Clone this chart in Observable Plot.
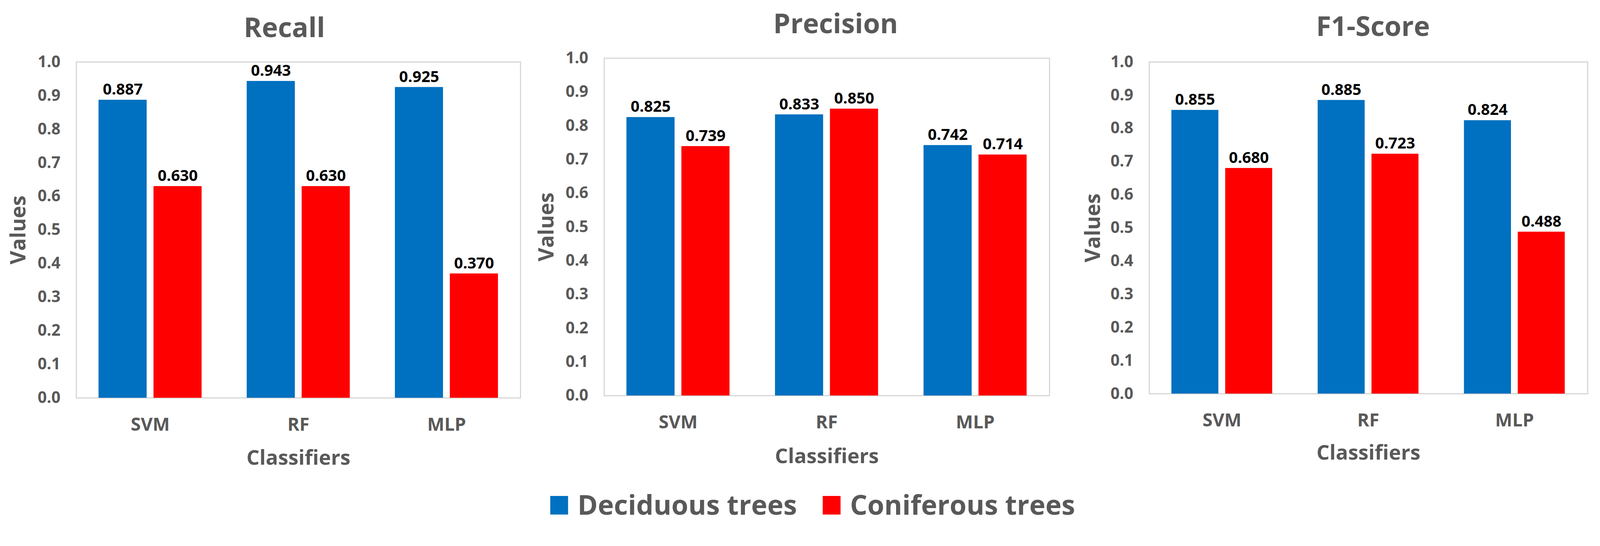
<!DOCTYPE html>
<html>
<head>
<meta charset="utf-8">
<script src="https://cdn.jsdelivr.net/npm/d3@7"></script>
<script src="https://cdn.jsdelivr.net/npm/@observablehq/plot@0.6"></script>
<style>
  html, body { margin: 0; padding: 0; background: #fff; overflow: hidden; }
  #page { position: relative; width: 4222px; height: 1397px; overflow: hidden; background: #fff; font-family: "Open Sans", sans-serif; transform-origin: 0 0; }
  .panel { position: absolute; top: 0; }
  .panel svg { position: absolute; left: 0; top: 0; }
  #legend { position: absolute; left: 1452px; top: 1293px; display: flex; align-items: flex-start; }
  .sw { width: 47px; height: 49px; margin-top: 15px; }
  .lt { font-size: 72px; line-height: 1; font-weight: 700; color: #595959; margin-left: 25px; margin-right: 68px; white-space: nowrap; }
</style>
</head>
<body>
<div id="page"><div id="legend"></div></div>
<script>
// ---- data ----
const classifiers = ["SVM", "RF", "MLP"];
const seriesNames = ["Deciduous trees", "Coniferous trees"];
const seriesColors = ["#0070C0", "#FF0000"];
const metricNames = ["Recall", "Precision", "F1-Score"];

const recallDeciduous = [0.887, 0.943, 0.925];
const recallConiferous = [0.630, 0.630, 0.370];
const precisionDeciduous = [0.825, 0.833, 0.742];
const precisionConiferous = [0.739, 0.850, 0.714];
const f1Deciduous = [0.855, 0.885, 0.824];
const f1Coniferous = [0.680, 0.723, 0.488];

const yTicks = [0.0, 0.1, 0.2, 0.3, 0.4, 0.5, 0.6, 0.7, 0.8, 0.9, 1.0];
const xTitle = "Classifiers";
const yTitle = "Values";

const metricSeries = [
  [recallDeciduous, recallConiferous],
  [precisionDeciduous, precisionConiferous],
  [f1Deciduous, f1Coniferous]
];

// ---- layout (styles only) ----
const layout = [
  { left: 0,    width: 1400, mL: 201, mR: 27, mT: 163, mB: 211, tDx: -37, tDy: -66, vDx: -152, cDy: 176 },
  { left: 1400, width: 1411, mL: 194, mR: 42, mT: 153, mB: 217, tDx: 23,  tDy: -66, vDx: -152, cDy: 178 },
  { left: 2811, width: 1411, mL: 221, mR: 33, mT: 163, mB: 222, tDx: 12,  tDy: -69, vDx: -147, cDy: 174 }
];
const W = 4222, PH = 1397;
const H = 1260;
const gray = "#595959";
const font = '"Open Sans", sans-serif';

const page = document.getElementById("page");

metricNames.forEach((name, i) => {
  const rows = [];
  classifiers.forEach((c, ci) => {
    seriesNames.forEach((s, si) => {
      rows.push({ classifier: c, series: s, value: metricSeries[i][si][ci] });
    });
  });
  const L = layout[i];
  const common = {
    width: L.width,
    height: H,
    marginLeft: L.mL,
    marginRight: L.mR,
    marginTop: L.mT,
    marginBottom: L.mB,
    style: { fontFamily: font, background: "transparent", overflow: "visible" },
    y: { domain: [0, 1], axis: null }
  };

  // frame, value axis and titles
  const base = Plot.plot({
    ...common,
    marks: [
      Plot.frame({ stroke: "#d6d6d6", strokeWidth: 3 }),
      Plot.axisY({
        ticks: yTicks, tickFormat: d => d.toFixed(1),
        tickSize: 0, tickPadding: 42,
        fontSize: 42, fontWeight: "bold", fill: gray, label: null
      }),
      Plot.text([name], {
        frameAnchor: "top", dx: L.tDx, dy: L.tDy,
        lineAnchor: "bottom", fontSize: 72, fontWeight: "bold", fill: gray
      }),
      Plot.text([yTitle], {
        frameAnchor: "left", rotate: -90, dx: L.vDx,
        lineAnchor: "middle", textAnchor: "middle",
        fontSize: 55, fontWeight: "bold", fill: gray
      }),
      Plot.text([xTitle], {
        frameAnchor: "bottom", dy: L.cDy,
        lineAnchor: "bottom", fontSize: 54, fontWeight: "bold", fill: gray
      })
    ]
  });

  // grouped bars
  const bars = Plot.plot({
    ...common,
    fx: { domain: classifiers, paddingInner: 0.305, paddingOuter: 0.15, label: null },
    x: { domain: seriesNames, paddingInner: 0.125, paddingOuter: 0, axis: null },
    color: { domain: seriesNames, range: seriesColors },
    marks: [
      Plot.barY(rows, { fx: "classifier", x: "series", y: "value", fill: "series" }),
      Plot.text(rows, {
        fx: "classifier", x: "series", y: "value",
        text: d => d.value.toFixed(3),
        lineAnchor: "bottom", dy: -14,
        fontSize: 41, fontWeight: "bold", fill: "#000"
      }),
      Plot.axisFx({
        anchor: "bottom", tickSize: 0, tickPadding: 52,
        fontSize: 48, fontWeight: "bold", fill: gray, label: null
      })
    ]
  });

  const wrap = document.createElement("div");
  wrap.className = "panel";
  wrap.style.left = L.left + "px";
  wrap.style.width = L.width + "px";
  wrap.style.height = H + "px";
  wrap.appendChild(base);
  wrap.appendChild(bars);
  page.appendChild(wrap);
});

// ---- legend ----
const legend = document.getElementById("legend");
seriesNames.forEach((s, si) => {
  const sw = document.createElement("div");
  sw.className = "sw";
  sw.style.background = seriesColors[si];
  const t = document.createElement("div");
  t.className = "lt";
  t.textContent = s;
  legend.appendChild(sw);
  legend.appendChild(t);
});

// fit the 4222×1397 layout into the actual viewport
function fit() {
  const vw = document.documentElement.clientWidth || window.innerWidth;
  const vh = document.documentElement.clientHeight || window.innerHeight;
  const s = Math.min(vw / W, vh / PH);
  page.style.transform = "scale(" + s + ")";
}
fit();
window.addEventListener("resize", fit);
</script>
</body>
</html>
